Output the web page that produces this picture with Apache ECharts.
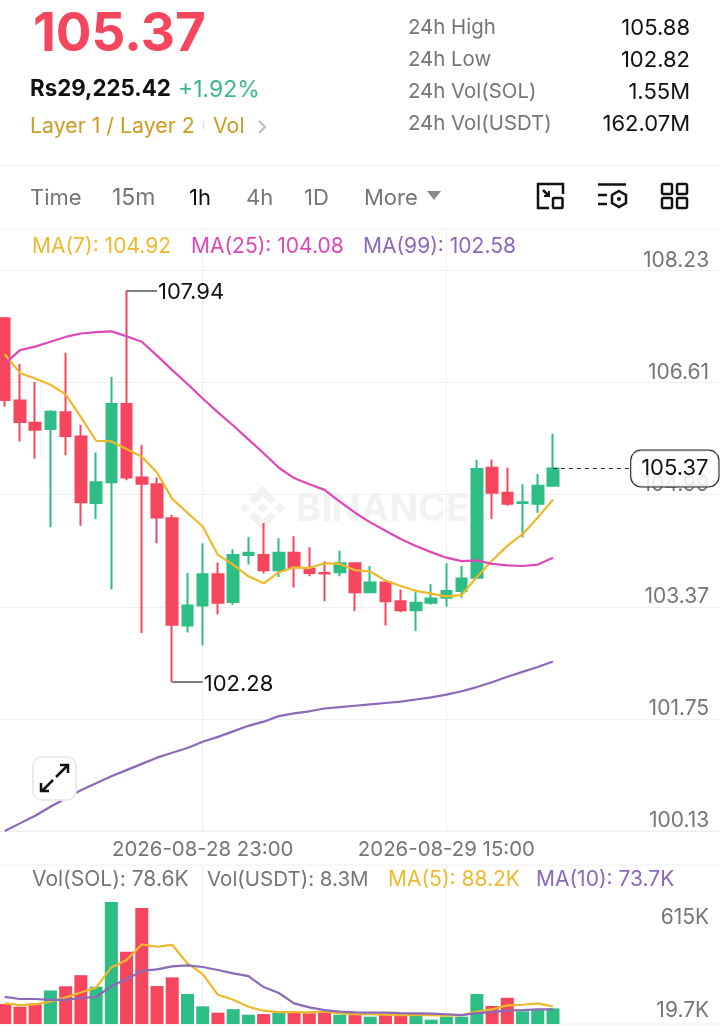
<!DOCTYPE html>
<html>
<head>
<meta charset="utf-8">
<style>html,body{margin:0;padding:0;background:#fff}#c{width:720px;height:1033px}</style>
<script src="https://cdn.jsdelivr.net/npm/echarts@6/dist/echarts.min.js"></script>
</head>
<body>
<div id="c"></div>
<script>
const times = ['08-28 10:00','08-28 11:00','08-28 12:00','08-28 13:00','08-28 14:00','08-28 15:00','08-28 16:00','08-28 17:00','08-28 18:00','08-28 19:00','08-28 20:00','08-28 21:00','08-28 22:00','08-28 23:00',
 '08-29 00:00','08-29 01:00','08-29 02:00','08-29 03:00','08-29 04:00','08-29 05:00','08-29 06:00','08-29 07:00','08-29 08:00','08-29 09:00','08-29 10:00','08-29 11:00','08-29 12:00','08-29 13:00','08-29 14:00','08-29 15:00','08-29 16:00','08-29 17:00','08-29 18:00','08-29 19:00','08-29 20:00','08-29 21:00','08-29 22:00',
 '','','','','','','','','','',''];
// open, close, low, high
const candles = [
[107.54,106.36,106.26,107.56],[106.35,106.04,105.76,106.88],[106.03,105.93,105.51,106.62],[105.94,106.19,104.52,106.21],
[106.18,105.84,105.56,107.04],[105.83,104.88,104.54,106.00],[104.87,105.17,104.64,105.60],[105.17,106.30,103.62,106.69],
[106.30,105.24,105.20,107.94],[105.24,105.15,102.99,105.71],[105.14,104.66,104.29,105.24],[104.65,103.11,102.28,104.70],
[103.10,103.39,103.00,103.86],[103.39,103.84,102.81,104.29],[103.84,103.43,103.26,104.01],[103.44,104.12,103.40,104.20],
[104.12,104.15,103.98,104.38],[104.12,103.90,103.85,104.58],[103.90,104.15,103.80,104.36],[104.15,103.94,103.65,104.39],
[103.92,103.86,103.81,104.23],[103.86,103.85,103.45,104.03],[103.87,104.00,103.81,104.18],[104.00,103.58,103.31,104.00],
[103.58,103.72,103.57,103.96],[103.72,103.45,103.10,103.72],[103.45,103.32,103.29,103.62],[103.32,103.43,103.02,103.58],
[103.43,103.49,103.40,103.70],[103.50,103.60,103.37,104.00],[103.60,103.78,103.50,103.96],[103.79,105.36,103.78,105.49],
[105.38,105.02,104.64,105.50],[105.02,104.86,104.83,105.38],[104.87,104.88,104.37,105.14],[104.86,105.12,104.73,105.29],
[105.12,105.37,105.11,105.87]];
const ma7 = [107.02,106.75,106.67,106.58,106.44,106.11,105.77,105.76,105.65,105.54,105.31,104.93,104.73,104.53,104.12,103.98,103.81,103.71,103.87,103.94,103.93,104.00,103.99,103.90,103.88,103.75,103.67,103.60,103.56,103.52,103.54,103.80,104.04,104.25,104.42,104.66,104.92];
const ma25 = [106.88,107.08,107.13,107.20,107.27,107.32,107.34,107.35,107.28,107.20,107.00,106.79,106.59,106.38,106.18,105.99,105.79,105.59,105.38,105.23,105.14,105.06,104.89,104.73,104.59,104.47,104.35,104.25,104.16,104.08,104.03,104.04,103.99,103.97,103.96,103.98,104.08];
const ma99 = [100.13,100.24,100.35,100.48,100.60,100.72,100.82,100.92,101.01,101.10,101.19,101.26,101.33,101.42,101.49,101.57,101.65,101.71,101.79,101.83,101.86,101.90,101.92,101.94,101.96,101.98,102.00,102.03,102.06,102.10,102.15,102.21,102.28,102.36,102.43,102.50,102.58];
const volumes = [100600,87000,104000,169000,190000,246000,188000,615000,364000,585000,191000,235000,151000,89000,57000,75000,47000,50000,57000,57000,54000,57000,47000,45000,37000,45000,45000,42000,22000,37000,37000,151000,91000,132000,64000,70000,78600];
const volMa5 = [104000,95000,99000,112000,134000,159000,183000,285000,322000,401000,389000,399000,305000,251000,147000,122000,87000,67000,60000,60000,59000,62000,54000,50000,49000,47000,45000,45000,44000,42000,44000,62000,74000,94000,97000,104000,88200];
const volMa10 = [137000,126000,126000,122000,122000,131000,136000,191000,225000,267000,275000,290000,295000,287000,272000,255000,241000,186000,156000,104000,84000,70000,62000,59000,57000,57000,55000,54000,52000,49000,45000,55000,60000,69000,70000,74000,73700];
const priceTicks = [100.13,101.75,103.37,104.99,106.61,108.23];
const volTicks = [19700,615000];
const volTickLabels = ['19.7K','615K'];
const timeLabelIdx = {13:'2026-08-28 23:00',29:'2026-08-29 15:00'};
const lastPrice = 105.37, hiMark = 107.94, loMark = 102.28;

const RED='#F6465D', GREEN='#2EBD85', GOLD='#EDB92B', PINK='#DE48B6', PURPLE='#8C68B8', GRAY='#757575', LINE='#EFEFEF', F='Inter';

const T=(x,y,text,fill,size,weight,align)=>({type:'text',z:50,x,y,silent:true,style:{text,fill,font:(weight||'normal')+' '+size+'px '+F,textAlign:align||'left',textVerticalAlign:'middle'}});
const S=(points,stroke,w,extra)=>({type:'polyline',z:50,silent:true,shape:{points},style:Object.assign({stroke,lineWidth:w,fill:null},extra||{})});
const P=(points)=>({type:'polygon',z:1,silent:true,shape:{points},style:{fill:'#F2F2F2'}});
const RR=(x,y,w,h,r,stroke,lw,fill)=>({type:'rect',z:50,silent:true,shape:{x,y,width:w,height:h,r},style:{stroke,lineWidth:lw,fill:fill||null}});

const header=[
 T(33,35,'105.37',RED,53,'bold'),
 T(30,89,'Rs29,225.42','#111',22.3,'bold'),
 T(178,90,'+1.92%','#3BB78F',23,'normal'),
 T(30,127,'Layer 1 / Layer 2','#C99E1F',21.3,'normal'),
 T(213,127,'Vol','#C99E1F',21.3,'normal'),
 S([[203.5,121],[203.5,129]],'#DDD',1.5),
 S([[259,121],[265,127],[259,133]],'#BBB',2),
 T(408,28,'24h High',GRAY,20.4),T(408,60,'24h Low',GRAY,20.4),T(408,92,'24h Vol(SOL)',GRAY,20.4),T(408,124,'24h Vol(USDT)',GRAY,20.4),
 T(690,28,'105.88','#111',22,'normal','right'),T(690,60,'102.82','#111',22,'normal','right'),T(690,92,'1.55M','#111',22,'normal','right'),T(690,124,'162.07M','#111',22,'normal','right'),
 S([[0,165.5],[720,165.5]],LINE,1),
 T(30,198,'Time',GRAY,22),T(112,198,'15m',GRAY,23),T(189,198,'1h','#111',22),T(246,198,'4h',GRAY,22),T(304,198,'1D',GRAY,22),T(364,198,'More',GRAY,22),
 {type:'polygon',z:50,silent:true,shape:{points:[[427,191],[441,191],[434,200]]},style:{fill:'#8a8a8a'}},
 // tool icons
 S([[538,197],[538,184],[563,184],[563,194]],'#111',2.5),S([[538,197],[538,208],[549,208]],'#111',2.5),RR(553,198,9.5,10,1,'#111',2.5),
 S([[543,190],[549,196]],'#111',2.5),S([[549,191],[549,196],[544,196]],'#111',2),
 S([[598,184.5],[626,184.5]],'#111',2.5),S([[598,195],[607,195]],'#111',2.5),S([[598,204],[607,204]],'#111',2.5),
 {type:'polygon',z:50,silent:true,shape:{points:[[619,191],[626,195],[626,203],[619,207],[612,203],[612,195]]},style:{stroke:'#111',lineWidth:2.5,fill:null}},
 {type:'circle',z:50,silent:true,shape:{cx:619,cy:199,r:2},style:{fill:'#111'}},
 RR(662,184,10,10,1.5,'#111',2.5),RR(677,184,10,10,1.5,'#111',2.5),RR(662,198,10,10,1.5,'#111',2.5),RR(677,198,10,10,1.5,'#111',2.5),
 // MA legend
 T(32,247,'MA(7): 104.92','#EDBA2E',21),T(191,247,'MA(25): 104.08',PINK,21),T(363,247,'MA(99): 102.58',PURPLE,21),
 // Volume legend
 T(32,880,'Vol(SOL): 78.6K',GRAY,21),T(207,880,'Vol(USDT): 8.3M',GRAY,20.5),T(388,880,'MA(5): 88.2K','#EDBA2E',21),T(536,880,'MA(10): 73.7K',PURPLE,21),
 // expand button
 RR(33,757,43,43,9,'#EBEBEB',2,'#fff'),
 S([[56,777],[67,766]],'#111',2.5),S([[60,765],[68,765],[68,773]],'#111',2.5),
 S([[42,791],[53,780]],'#111',2.5),S([[41,783],[41,791],[49,791]],'#111',2.5),
 // watermark
 {type:'text',z:1,x:296,y:510,silent:true,style:{text:'BINANCE',fill:'#F2F2F2',font:'bold 38px '+F,textVerticalAlign:'middle'}},
 P([[262.5,503],[267.5,508],[262.5,513],[257.5,508]]),
 P([[245,503],[250,508],[245,513],[240,508]]),P([[280,503],[285,508],[280,513],[275,508]]),
 P([[262.5,486],[276,499.5],[271,504.5],[262.5,496],[254,504.5],[249,499.5]]),
 P([[262.5,530],[276,516.5],[271,511.5],[262.5,520],[254,511.5],[249,516.5]])
];

const chart=echarts.init(document.getElementById('c'),null,{renderer:'canvas'});
const L=-2.9,W=731.04;
const lineS=(name,data,color,xi,yi,w)=>({name,type:'line',data,xAxisIndex:xi,yAxisIndex:yi,showSymbol:false,smooth:false,silent:true,z:5,lineStyle:{color,width:w||2.2},itemStyle:{color}});
const mk=(i,v)=>[{coord:[i,v],lineStyle:{color:'#555',width:1.5,type:'solid'},label:{show:true,position:'end',distance:1,offset:[0,2],color:'#111',fontSize:22,fontFamily:F,formatter:v.toFixed(2)}},{coord:[i+2,v]}];

chart.setOption({
 animation:false,
 backgroundColor:'#fff',
 tooltip:{show:false},
 grid:[
  {left:L,width:W,top:229,bottom:202,show:true,borderColor:LINE,borderWidth:1,outerBoundsMode:'none'},
  {left:L,width:W,top:865,bottom:9,show:true,borderColor:LINE,borderWidth:1,outerBoundsMode:'none'}
 ],
 xAxis:[
  {type:'category',gridIndex:0,data:times,boundaryGap:true,axisLine:{show:false},axisTick:{show:false},
   axisLabel:{show:true,interval:(i)=>i in timeLabelIdx,formatter:(v,i)=>timeLabelIdx[i]||'',color:GRAY,fontSize:20.4,fontFamily:F,margin:9,hideOverlap:false},
   splitLine:{show:true,alignWithLabel:true,interval:(i)=>i in timeLabelIdx,lineStyle:{color:LINE,width:1}}},
  {type:'category',gridIndex:1,data:times,boundaryGap:true,axisLine:{show:false},axisTick:{show:false},axisLabel:{show:false},
   splitLine:{show:true,alignWithLabel:true,interval:(i)=>i in timeLabelIdx,lineStyle:{color:LINE,width:1}}}
 ],
 yAxis:[
  {type:'value',gridIndex:0,min:100.13,max:108.83,position:'right',axisLine:{show:false},axisTick:{show:false,customValues:priceTicks},
   axisLabel:{inside:true,customValues:priceTicks,formatter:(v)=>v.toFixed(2),color:GRAY,fontSize:21,fontFamily:F,margin:19,verticalAlign:'bottom',lineHeight:20,align:'right'},
   splitLine:{show:true,lineStyle:{color:LINE,width:1}}},
  {type:'value',gridIndex:1,min:0,max:801000,position:'right',axisLine:{show:false},axisTick:{show:false},
   axisLabel:{inside:true,customValues:volTicks,color:GRAY,fontSize:21,fontFamily:F,margin:19,align:'right',
    formatter:(v)=>{const s=volTickLabels[volTicks.indexOf(v)];return v===volTicks[0]?'{low|'+s+'}':'{high|'+s+'}';},
    rich:{low:{color:GRAY,fontSize:21,fontFamily:F,padding:[0,0,18,0]},high:{color:GRAY,fontSize:21,fontFamily:F,padding:[31,0,0,0]}}},
   splitLine:{show:false}}
 ],
 graphic:{elements:header},
 series:[
  {type:'line',name:'marks',data:[],xAxisIndex:0,yAxisIndex:0,z:1,silent:true,showSymbol:false,
   markLine:{silent:true,symbol:'none',animation:false,data:[
    [{coord:[36,lastPrice],lineStyle:{color:'#333',width:1,type:[4,4]},
      label:{show:true,position:'end',distance:2,formatter:lastPrice.toFixed(2),color:'#111',fontSize:22,fontFamily:F,backgroundColor:'rgba(255,255,255,0.85)',borderColor:'#222',borderWidth:1,borderRadius:10,padding:[7,10,7,10]}},
     {coord:[41,lastPrice]}],
    mk(8,hiMark),mk(11,loMark)
   ]}},
  {type:'candlestick',name:'SOL',data:candles,xAxisIndex:0,yAxisIndex:0,barWidth:11,z:2,silent:true,
   itemStyle:{color:GREEN,color0:RED,borderColor:GREEN,borderColor0:RED,borderWidth:2}},
  lineS('MA7',ma7,GOLD,0,0),lineS('MA25',ma25,PINK,0,0),lineS('MA99',ma99,PURPLE,0,0),
  {type:'bar',name:'Vol',data:volumes.map((v,i)=>({value:v,itemStyle:{color:candles[i][1]>=candles[i][0]?GREEN:RED}})),xAxisIndex:1,yAxisIndex:1,barWidth:13,z:2,silent:true},
  lineS('VMA5',volMa5,GOLD,1,1),lineS('VMA10',volMa10,PURPLE,1,1)
 ]
});
</script>
</body>
</html>
